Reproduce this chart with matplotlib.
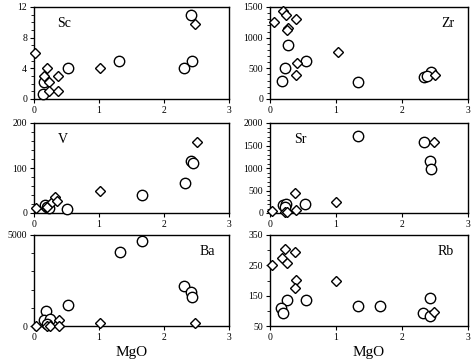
import matplotlib
matplotlib.use("Agg")
import matplotlib.pyplot as plt
from matplotlib.ticker import MultipleLocator

plt.rcParams['font.family'] = ['Liberation Serif', 'DejaVu Serif']

# ---- data: (MgO, element) for circles and diamonds ----
sc_circ_x = [0.14, 0.16, 0.52, 1.31, 2.31, 2.43, 2.41]
sc_circ_y = [0.6, 2.2, 4.0, 4.9, 4.0, 4.9, 10.9]
sc_diam_x = [0.02, 0.2, 0.16, 0.23, 0.23, 0.37, 0.37, 1.01, 2.47]
sc_diam_y = [6.0, 4.0, 3.0, 2.2, 1.1, 3.0, 1.0, 4.0, 9.8]

zr_circ_x = [0.27, 0.22, 0.18, 0.55, 1.34, 2.33, 2.44, 2.38]
zr_circ_y = [873, 502, 300, 622, 278, 365, 447, 380]
zr_diam_x = [0.06, 0.19, 0.24, 0.4, 0.27, 0.26, 0.41, 0.4, 1.03, 2.5]
zr_diam_y = [1249, 1440, 1364, 1304, 1165, 1120, 595, 393, 764, 393]

v_circ_x = [0.17, 0.2, 0.23, 0.51, 1.66, 2.32, 2.42, 2.44]
v_circ_y = [18, 14, 12, 9, 41, 67, 116, 112]
v_diam_x = [0.03, 0.2, 0.28, 0.32, 0.36, 1.01, 2.5]
v_diam_y = [12, 14, 25, 36, 27, 49, 158]

sr_circ_x = [0.19, 0.24, 0.22, 0.53, 1.33, 2.33, 2.43, 2.44]
sr_circ_y = [172, 190, 140, 190, 1716, 1567, 1157, 978]
sr_diam_x = [0.03, 0.22, 0.26, 0.38, 0.39, 1.0, 2.49]
sr_diam_y = [35, 30, 25, 448, 60, 246, 1567]

ba_circ_x = [0.18, 0.15, 0.24, 0.2, 0.53, 1.33, 1.66, 2.31, 2.41, 2.43]
ba_circ_y = [842, 330, 370, 120, 1154, 4084, 4689, 2216, 1886, 1575]
ba_diam_x = [0.03, 0.2, 0.24, 0.38, 0.38, 1.02, 2.48]
ba_diam_y = [0, 0, 0, 330, 0, 146, 146]

rb_circ_x = [0.25, 0.54, 0.16, 0.2, 1.33, 1.66, 2.32, 2.43, 2.43]
rb_circ_y = [136, 136, 108, 94, 116, 116, 94, 141, 83]
rb_diam_x = [0.03, 0.18, 0.23, 0.25, 0.38, 0.39, 0.38, 1.0, 2.49]
rb_diam_y = [251, 273, 303, 257, 295, 202, 174, 198, 97]

x_ticks = [0, 1, 2, 3]

panels = [
    ("Sc", sc_circ_x, sc_circ_y, sc_diam_x, sc_diam_y, (0, 12), 4, 1, 'upper left'),
    ("Zr", zr_circ_x, zr_circ_y, zr_diam_x, zr_diam_y, (0, 1500), 500, 100, 'upper right'),
    ("V", v_circ_x, v_circ_y, v_diam_x, v_diam_y, (0, 200), 100, 20, 'upper left'),
    ("Sr", sr_circ_x, sr_circ_y, sr_diam_x, sr_diam_y, (0, 2000), 500, 100, 'upper left'),
    ("Ba", ba_circ_x, ba_circ_y, ba_diam_x, ba_diam_y, (0, 5000), 5000, 1000, 'upper right'),
    ("Rb", rb_circ_x, rb_circ_y, rb_diam_x, rb_diam_y, (50, 350), 100, 50, 'upper right'),
]

W, H = 474, 364
fig = plt.figure(figsize=(W / 100, H / 100), dpi=100)

cols = [(34, 229), (270, 468)]
rows = [(7, 99), (123, 213), (235, 326)]

for i, (name, cx, cy, dx, dy, ylim, major, minor, loc) in enumerate(panels):
    r, c = divmod(i, 2)
    x0, x1 = cols[c]
    y0, y1 = rows[r]
    ax = fig.add_axes([x0 / W, 1 - y1 / H, (x1 - x0) / W, (y1 - y0) / H])
    ax.plot(cx, cy, linestyle='none', marker='o', markersize=7.5, clip_on=False,
            markerfacecolor='white', markeredgecolor='black', markeredgewidth=1.0, zorder=3)
    ax.plot(dx, dy, linestyle='none', marker='D', markersize=5.5, clip_on=False,
            markerfacecolor='white', markeredgecolor='black', markeredgewidth=1.0, zorder=4)
    ax.set_xlim(0, 3)
    ax.set_ylim(*ylim)
    ax.set_xticks(x_ticks)
    ax.yaxis.set_major_locator(MultipleLocator(major))
    if name == "Rb":
        ax.set_yticks([50, 150, 250, 350])
    ax.yaxis.set_minor_locator(MultipleLocator(minor))
    ax.tick_params(axis='both', which='major', direction='out', length=3, width=0.8,
                   labelsize=7, pad=2)
    ax.tick_params(axis='y', which='minor', direction='out', length=2, width=0.6)
    for s in ax.spines.values():
        s.set_linewidth(1.0)
        s.set_zorder(2)
    if loc == 'upper left':
        ax.text(0.12, 0.82, name, transform=ax.transAxes, fontsize=10, ha='left', va='center')
    else:
        ax.text(0.93, 0.82, name, transform=ax.transAxes, fontsize=10, ha='right', va='center')
    if r == 2:
        ax.set_xlabel("MgO", fontsize=11, labelpad=3)

fig.savefig("out.png", dpi=100)
